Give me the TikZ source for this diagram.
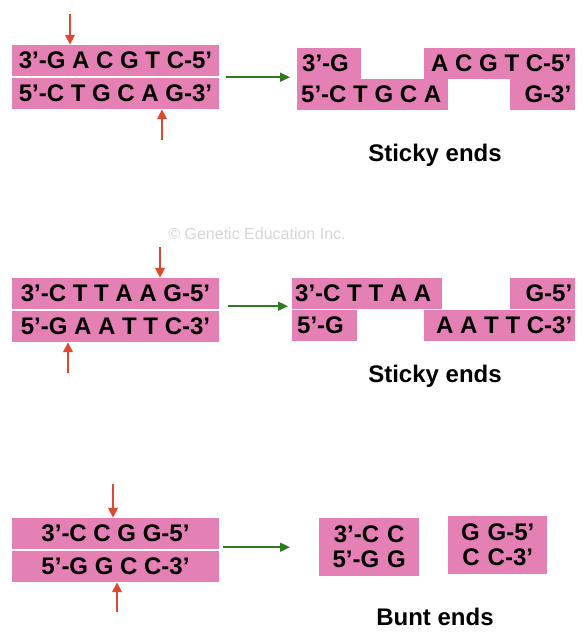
\documentclass[tikz,border=0pt]{standalone}
\usepackage{fontspec}
\setmainfont{Liberation Sans}
\usetikzlibrary{arrows.meta}
\definecolor{dnapink}{RGB}{229,128,180}
\definecolor{cutred}{RGB}{222,72,48}
\definecolor{arrgreen}{RGB}{46,122,32}
\begin{document}
\begin{tikzpicture}[x=1pt,y=-1pt,
  dnafont/.style={font=\bfseries\fontsize{24}{25}\selectfont},
  strand/.style={dnafont, fill=dnapink, draw=none, inner sep=0pt, minimum width=207pt, minimum height=31pt},
  fragbox/.style={fill=dnapink, draw=none, inner sep=0pt, minimum height=31pt, anchor=north west},
  fragtext/.style={dnafont, inner sep=0pt},
  cutarrow/.style={draw=cutred, line width=1.8pt, -{Triangle[length=10pt,width=9.5pt]}},
  goarrow/.style={draw=arrgreen, line width=1.8pt, -{Triangle[length=10pt,width=9pt]}},
  caption/.style={font=\bfseries\fontsize{24}{26}\selectfont, anchor=base}]
\useasboundingbox (0,0) rectangle (586,639);

% watermark
\node[font=\fontsize{16}{18}\selectfont, text=black!16] (wm) at (257,234) {© Genetic Education Inc.};

% ---------- panel 1 ----------
\node[strand] (t1) at (115.5,60.5) {3’-G A C G T C-5’};
\node[strand] (b1) at (115.5,93.5) {5’-C T G C A G-3’};
\coordinate (c1s) at (70,14);
\draw[cutarrow] (c1s) -- (c1s |- t1.north);
\coordinate (c1e) at (162,140);
\draw[cutarrow] (c1e) -- (c1e |- b1.south);

\node[fragbox, minimum width=64pt] (f1a) at (297,48) {};
\node[fragbox, minimum width=151pt] (f1b) at (424,48) {};
\node[fragbox, minimum width=151pt] (f1c) at (297,79) {};
\node[fragbox, minimum width=65pt] (f1d) at (510,79) {};
\node[fragtext, anchor=west] (f1at) at ([xshift=5pt]f1a.west) {3’-G};
\node[fragtext, anchor=east] (f1bt) at ([xshift=-4pt]f1b.east) {A C G T C-5’};
\node[fragtext, anchor=west] (f1ct) at ([xshift=4pt]f1c.west) {5’-C T G C A};
\node[fragtext, anchor=east] (f1dt) at ([xshift=-4pt]f1d.east) {G-3’};
\draw[goarrow] ([xshift=7pt,yshift=-1pt]t1.south east) -- ([xshift=-7pt,yshift=-1pt]t1.south east -| f1a.west);
\node[caption] (s1) at (435,161) {Sticky ends};

% ---------- panel 2 ----------
\node[strand] (t2) at (115.5,293.5) {3’-C T T A A G-5’};
\node[strand] (b2) at (115.5,326.5) {5’-G A A T T C-3’};
\coordinate (c2s) at (160,247);
\draw[cutarrow] (c2s) -- (c2s |- t2.north);
\coordinate (c2e) at (68,373);
\draw[cutarrow] (c2e) -- (c2e |- b2.south);

\node[fragbox, minimum width=150pt] (f2a) at (292,278) {};
\node[fragbox, minimum width=65pt] (f2b) at (510,278) {};
\node[fragbox, minimum width=65pt] (f2c) at (292,310) {};
\node[fragbox, minimum width=151pt] (f2d) at (424,310) {};
\node[fragtext, anchor=west] (f2at) at ([xshift=3pt]f2a.west) {3’-C T T A A};
\node[fragtext, anchor=east] (f2bt) at ([xshift=-3pt]f2b.east) {G-5’};
\node[fragtext, anchor=west] (f2ct) at ([xshift=5pt]f2c.west) {5’-G};
\node[fragtext, anchor=east] (f2dt) at ([xshift=-3pt]f2d.east) {A A T T C-3’};
\draw[goarrow] ([xshift=9pt,yshift=3pt]t2.south east) -- ([xshift=-4pt,yshift=3pt]t2.south east -| f2a.west);
\node[caption] (s2) at (435,382) {Sticky ends};

% ---------- panel 3 ----------
\node[strand] (t3) at (115.5,533.5) {3’-C C G G-5’};
\node[strand] (b3) at (115.5,566.5) {5’-G G C C-3’};
\coordinate (c3s) at (113,484);
\draw[cutarrow] (c3s) -- (c3s |- t3.north);
\coordinate (c3e) at (117,612);
\draw[cutarrow] (c3e) -- (c3e |- b3.south);

\node[fragbox, dnafont, text width=92pt, align=center, minimum height=58pt, inner xsep=4pt] (f3a) at (319,518) {3’-C C\\5’-G G};
\node[fragbox, dnafont, text width=91pt, align=center, minimum height=58pt, inner xsep=4pt] (f3b) at (448,516) {G G-5’\\C C-3’};
\draw[goarrow] ([xshift=4pt,yshift=2pt]t3.south east) -- ([xshift=-29pt,yshift=2pt]t3.south east -| f3a.west);
\node[caption] (s3) at (435,625) {Bunt ends};
\end{tikzpicture}
\end{document}
